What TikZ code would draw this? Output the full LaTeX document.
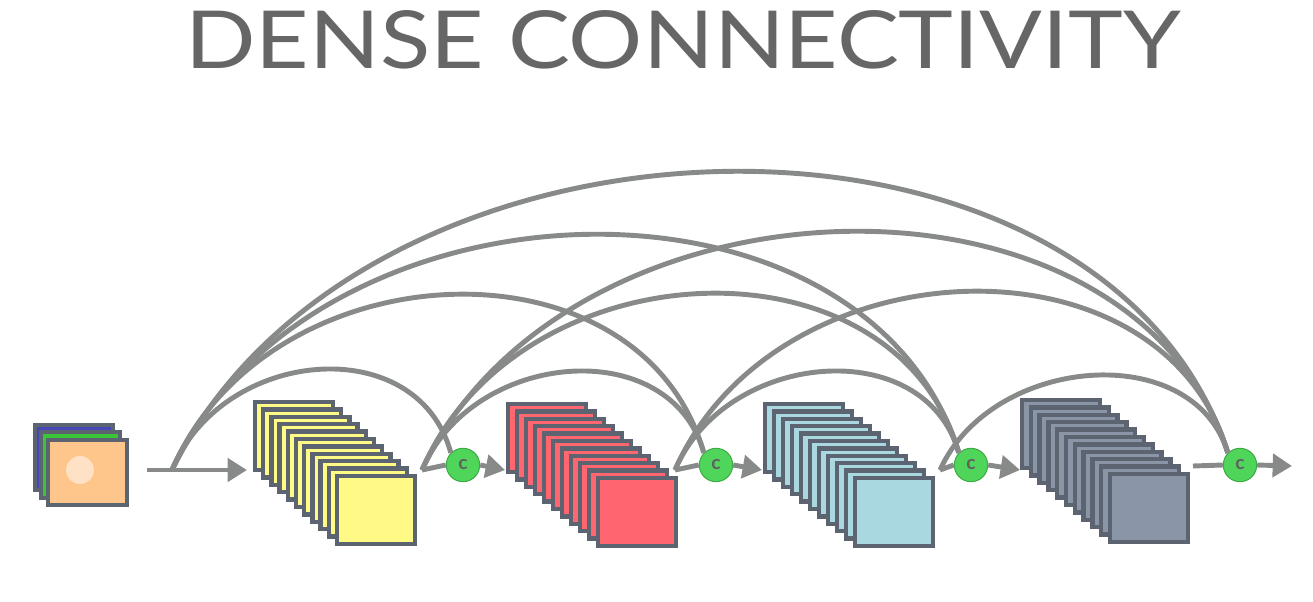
\documentclass[tikz,border=0pt]{standalone}
\usepackage{fontspec}
\setmainfont{Lato}
\usetikzlibrary{arrows.meta,calc}
\definecolor{ln}{HTML}{888A8A}
\definecolor{bd}{HTML}{5C6472}
\definecolor{cy}{HTML}{FFF986}
\definecolor{cr}{HTML}{FF6670}
\definecolor{cb}{HTML}{A9D8E0}
\definecolor{cg}{HTML}{8A95A8}
\definecolor{cc}{HTML}{4FD65A}
\tikzset{
 conn/.style={draw=ln,line width=2.8pt},
 flow/.style={draw=ln,line width=2.8pt,-{Triangle[length=11pt,width=13pt]}},
 layer/.style={draw=bd,line width=2.4pt},
 cnode/.style={circle,fill=cc,draw=cc!80!black,line width=0.6pt,minimum size=19pt,inner sep=0pt,text=ln!70!black,font=\bfseries\fontsize{11}{11}\selectfont},
}
\newcommand{\mystack}[4]{% back x, back y, color, step x
 \foreach \i in {0,...,10}{
  \path[layer,fill=#3] ({(#1+#4*\i)},{(#2+7.4*\i)}) rectangle ++(78,68);
 }}
\begin{document}
\begin{tikzpicture}[x=0.02cm,y=-0.02cm]
\useasboundingbox (0,0) rectangle (1313,602);
\node[text=gray!80!black,inner sep=0pt,anchor=north] (title) at (683,10) {\resizebox{19.9cm}{1.16cm}{DENSE CONNECTIVITY}};
% input image
\path[layer,fill=blue!45!gray] (35,425) rectangle (113,490);
\path[layer,fill=green!55!gray] (41,432) rectangle (120,498);
\path[layer,fill=orange!45] (48,440) rectangle (127,505);
\fill[white,opacity=0.5] (80,470) circle (14);
% stacks
\mystack{255}{402}{cy}{8.2}
\mystack{508}{404}{cr}{9}
\mystack{765}{404}{cb}{9}
\mystack{1022}{400}{cg}{8.8}
% coordinates
\coordinate (s0) at (172,470);
\coordinate (s1) at (422,470);
\coordinate (s2) at (675,470);
\coordinate (s3) at (940,470);
\coordinate (in0) at (147,470);
\coordinate (b1) at (247,470);
\coordinate (b2) at (505,470);
\coordinate (b3) at (762,470);
\coordinate (b4) at (1020,470);
\coordinate (out) at (1292,466);
\node[cnode] (c1) at (463,465) {c};
\node[cnode] (c2) at (716,465) {c};
\node[cnode] (c3) at (971,465) {c};
\node[cnode] (c4) at (1240,465) {c};
% arcs
\foreach \s/\c/\h in {s0/c1/92, s0/c2/167, s0/c3/227, s0/c4/290,
                      s1/c2/90, s1/c3/168, s1/c4/230,
                      s2/c3/90, s2/c4/170,
                      s3/c4/86}{
  \path let \p1=(\s), \p2=(\c.north west), \n1={\x2-\x1}, \n2={4/3*\h*0.02cm} in
   [conn] (\s) .. controls ($(\s)+(0.18*\n1,\n2)$) and ($(\c.north west)+(-0.12*\n1,\n2)$) .. (\c.north west);
}
% flow arrows
\draw[flow] (in0) -- (b1);
\draw[conn] (s1) -- (c1.west);
\draw[flow] (c1.east) -- (b2);
\draw[conn] (s2) -- (c2.west);
\draw[flow] (c2.east) -- (b3);
\draw[conn] (s3) -- (c3.west);
\draw[flow] (c3.east) -- (b4);
\draw[conn] (1193,466) -- (c4.west);
\draw[flow] (c4.east) -- (out);
\end{tikzpicture}
\end{document}
